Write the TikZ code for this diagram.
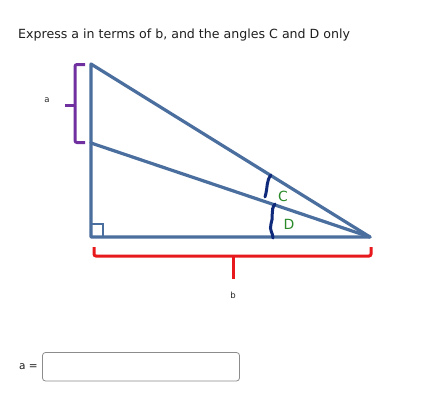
\documentclass[tikz,border=0pt]{standalone}
\usepackage{fontspec}
\setmainfont{DejaVu Sans}
\begin{document}
\begin{tikzpicture}[x=1pt,y=-1pt,
  tri/.style={draw=triblue,line width=3.2pt,line cap=round,line join=round},
  brace/.style={line width=3pt,line cap=butt,rounded corners=2pt},
  anglebrace/.style={draw=navy,line width=3pt,line cap=round},
  lbl/.style={font=\fontsize{8.5}{9}\selectfont,text=black!85,inner sep=0pt},
  angl/.style={font=\fontsize{14}{15}\selectfont,text=greenlbl,inner sep=0pt}]
\definecolor{triblue}{HTML}{4A6E9E}
\definecolor{navy}{HTML}{0F2A7A}
\definecolor{redb}{HTML}{E8191C}
\definecolor{purp}{HTML}{7030A0}
\definecolor{greenlbl}{HTML}{2A8A2A}
\useasboundingbox (0,0) rectangle (426,402);
\fill[white] (0,0) rectangle (426,402);
% title
\node[anchor=west,inner sep=0pt,font=\fontsize{12.6}{14}\selectfont,text=black!88] (title) at (18,35) {Express a in terms of b, and the angles C and D only};
% triangle
\coordinate (T) at (91,64);
\coordinate (M) at (91,143);
\coordinate (O) at (91,237);
\coordinate (R) at (370,237);
\draw[draw=triblue,line width=1.5pt] (91,224) -- (103,224) -- (103,237);
\draw[tri] (T) -- (O) -- (R) -- cycle;
\draw[tri] (M) -- (R);
% purple bracket
\draw[purp,brace] (85,64.5) -- (75,64.5) -- (75,142.5) -- (85,142.5);
\draw[purp,brace] (65,105) -- (75,105);
\node[lbl] (alabel) at (47,100) {a};
% red bracket
\draw[redb,brace] (94,247) -- (94,256) -- (371,256) -- (371,247);
\draw[redb,brace] (233,256) -- (233,279);
\node[lbl] (blabel) at (233,295) {b};
% angle braces
\draw[anglebrace] (271,175) .. controls (266,181) and (268,187) .. (265,197);
\draw[anglebrace] (275,204) .. controls (270,210) and (274,217) .. (271,224) .. controls (269,230) and (273,233) .. (273,238);
\node[angl] (C) at (283,196) {C};
\node[angl] (D) at (289,224) {D};
% answer
\node[anchor=west,inner sep=0pt,font=\fontsize{10.5}{12}\selectfont,text=black!88] (aeq) at (19,367) {a =};
\draw[draw=black!45,line width=0.8pt,rounded corners=3pt] (42.5,352.5) rectangle (239.5,381) node[midway] (box) {};
\end{tikzpicture}
\end{document}
